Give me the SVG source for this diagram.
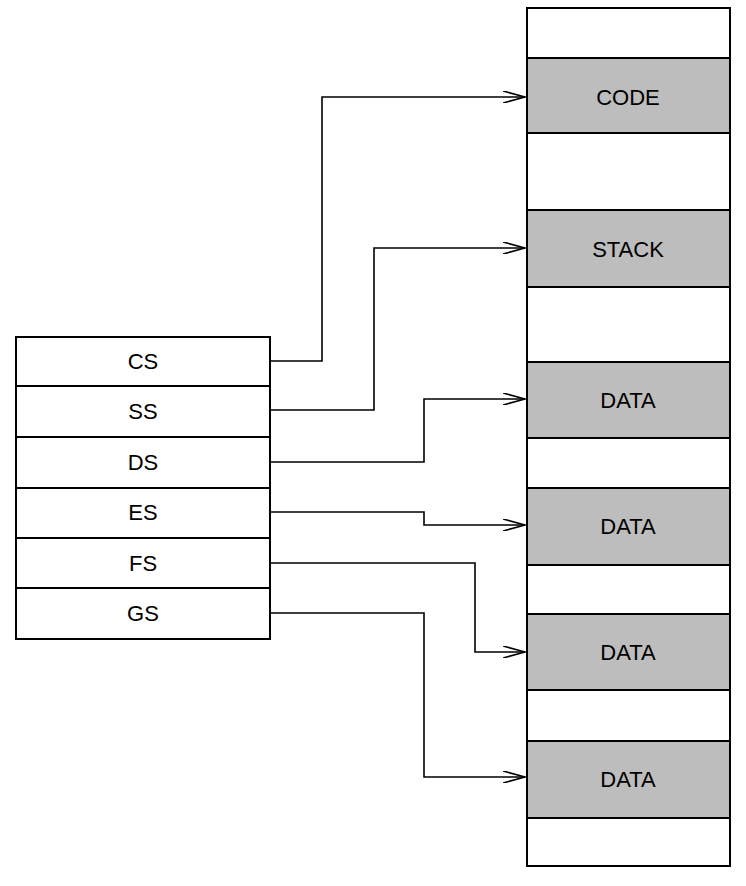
<svg xmlns="http://www.w3.org/2000/svg" width="746" height="886" viewBox="0 0 746 886">
<style>
.w{fill:#fff;stroke:#000;stroke-width:2}
.g{fill:#bdbdbd;stroke:#000;stroke-width:2}
text{font-family:"Liberation Sans",Arial,sans-serif;font-size:22px;text-anchor:middle;fill:#000}
.c{fill:none;stroke:#000;stroke-width:1.6;marker-end:url(#a)}
</style>
<defs><marker id="a" markerWidth="24" markerHeight="12" refX="22" refY="6" orient="auto" markerUnits="userSpaceOnUse"><path d="M0,0 L22,6 L0,12" fill="none" stroke="#000" stroke-width="1.6"/></marker></defs>
<g id="memory">
<rect class="w" x="527" y="8" width="203" height="858"/>
<rect class="g" x="527" y="58" width="203" height="75"/>
<rect class="g" x="527" y="210" width="203" height="77"/>
<rect class="g" x="527" y="362" width="203" height="76"/>
<rect class="g" x="527" y="488" width="203" height="77"/>
<rect class="g" x="527" y="614" width="203" height="76"/>
<rect class="g" x="527" y="741" width="203" height="77"/>
<text x="628" y="105">CODE</text>
<text x="628" y="257">STACK</text>
<text x="628" y="408">DATA</text>
<text x="628" y="534">DATA</text>
<text x="628" y="660">DATA</text>
<text x="628" y="787">DATA</text>
</g>
<g id="registers">
<rect class="w" x="16" y="337" width="254" height="49"/>
<rect class="w" x="16" y="386" width="254" height="51"/>
<rect class="w" x="16" y="437" width="254" height="51"/>
<rect class="w" x="16" y="488" width="254" height="50"/>
<rect class="w" x="16" y="538" width="254" height="50"/>
<rect class="w" x="16" y="588" width="254" height="51"/>
<text x="143" y="369">CS</text>
<text x="143" y="419">SS</text>
<text x="143" y="470">DS</text>
<text x="143" y="520">ES</text>
<text x="143" y="571">FS</text>
<text x="143" y="621">GS</text>
</g>
<g id="connectors">
<path class="c" d="M270,361 H322 V97 H525"/>
<path class="c" d="M270,410 H374 V248 H525"/>
<path class="c" d="M270,462 H424 V399 H525"/>
<path class="c" d="M270,512 H424 V525 H525"/>
<path class="c" d="M270,563 H475 V652 H525"/>
<path class="c" d="M270,613 H424 V777 H525"/>
</g>
</svg>
